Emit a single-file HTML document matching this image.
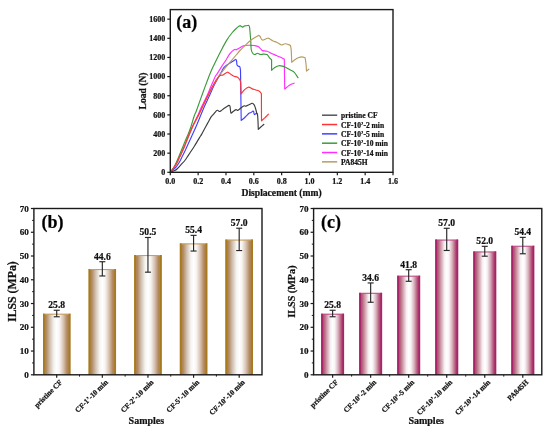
<!DOCTYPE html>
<html><head><meta charset="utf-8"><style>
html,body{margin:0;padding:0;background:#fff;width:550px;height:433px;overflow:hidden}
svg{display:block;will-change:transform}
text{stroke:#111;stroke-width:0.22px}
</style></head><body>
<svg width="550" height="433" viewBox="0 0 550 433">
<defs>
<linearGradient id="gb" x1="0" x2="1" y1="0" y2="0">
<stop offset="0" stop-color="#a87830"/><stop offset="0.12" stop-color="#b28a62"/><stop offset="0.26" stop-color="#d2c4b6"/><stop offset="0.4" stop-color="#f6f4f0"/><stop offset="0.5" stop-color="#ffffff"/><stop offset="0.6" stop-color="#f8f4f2"/><stop offset="0.74" stop-color="#d8c4b4"/><stop offset="0.88" stop-color="#b2885e"/><stop offset="1" stop-color="#a87a38"/>
</linearGradient>
<linearGradient id="gc" x1="0" x2="1" y1="0" y2="0">
<stop offset="0" stop-color="#a83068"/><stop offset="0.12" stop-color="#b25c76"/><stop offset="0.26" stop-color="#d4a4b2"/><stop offset="0.4" stop-color="#f6eef0"/><stop offset="0.5" stop-color="#ffffff"/><stop offset="0.6" stop-color="#f8f2f4"/><stop offset="0.74" stop-color="#d8b0bc"/><stop offset="0.88" stop-color="#b25476"/><stop offset="1" stop-color="#a8306a"/>
</linearGradient>
</defs>
<rect width="550" height="433" fill="#fff"/>
<path d="M170.50,172.00 C171.18,171.08 173.47,168.17 174.60,166.50 C175.73,164.83 176.48,163.58 177.30,162.00 C178.12,160.42 178.73,158.67 179.50,157.00 C180.27,155.33 181.10,153.75 181.90,152.00 C182.70,150.25 183.20,149.17 184.30,146.50 C185.40,143.83 187.05,139.50 188.50,136.00 C189.95,132.50 191.50,128.83 193.00,125.50 C194.50,122.17 196.17,118.92 197.50,116.00 C198.83,113.08 199.43,111.33 201.00,108.00 C202.57,104.67 205.23,99.62 206.90,96.00 C208.57,92.38 209.60,89.55 211.00,86.30 C212.40,83.05 214.33,78.48 215.30,76.50 C216.27,74.52 215.62,76.25 216.80,74.40 C217.98,72.55 220.83,67.85 222.40,65.40 C223.97,62.95 224.92,61.70 226.20,59.70 C227.48,57.70 228.72,55.12 230.10,53.40 C231.48,51.68 233.50,49.98 234.50,49.40 C235.50,48.82 235.83,49.82 236.10,49.90 C236.73,49.53 238.52,48.43 239.90,47.70 C241.28,46.97 242.57,45.90 244.40,45.50 C246.23,45.10 249.28,45.30 250.90,45.30 C252.52,45.30 252.88,45.30 254.10,45.50 C255.32,45.70 257.03,45.85 258.20,46.50 C259.37,47.15 260.38,48.72 261.10,49.40 C261.82,50.08 261.50,50.30 262.50,50.60 C263.50,50.90 265.70,50.77 267.10,51.20 C268.50,51.63 269.40,52.50 270.90,53.20 C272.40,53.90 274.58,54.75 276.10,55.40 C277.62,56.05 278.63,56.48 280.00,57.10 C281.37,57.72 283.58,58.77 284.30,59.10 L284.70,89.00 C285.55,88.35 288.23,86.07 289.80,85.10 C291.37,84.13 293.38,83.52 294.10,83.20" fill="none" stroke="#ff30ff" stroke-width="1.15" stroke-linejoin="round" stroke-linecap="round"/>
<path d="M170.50,172.00 C171.12,171.15 173.02,168.98 174.20,166.90 C175.38,164.82 176.38,162.32 177.60,159.50 C178.82,156.68 180.23,153.08 181.50,150.00 C182.77,146.92 184.18,143.42 185.20,141.00 C186.22,138.58 186.72,137.67 187.60,135.50 C188.48,133.33 189.40,131.25 190.50,128.00 C191.60,124.75 193.20,118.92 194.20,116.00 C195.20,113.08 195.12,114.22 196.50,110.50 C197.88,106.78 200.40,99.45 202.50,93.70 C204.60,87.95 207.52,80.13 209.10,76.00 C210.68,71.87 210.77,71.62 212.00,68.90 C213.23,66.18 214.93,62.87 216.50,59.70 C218.07,56.53 219.68,53.17 221.40,49.90 C223.12,46.63 224.98,43.00 226.80,40.10 C228.62,37.20 230.67,34.50 232.30,32.50 C233.93,30.50 235.33,29.25 236.60,28.10 C237.87,26.95 239.35,26.02 239.90,25.60 L242.60,27.20 C242.97,26.98 243.80,26.20 244.80,25.90 C245.80,25.60 247.97,25.48 248.60,25.40 C248.77,25.75 249.25,25.00 249.60,27.50 C249.95,30.00 250.42,36.65 250.70,40.40 C250.98,44.15 250.87,47.73 251.30,50.00 C251.73,52.27 252.68,53.27 253.30,54.00 C253.92,54.73 254.30,54.52 255.00,54.40 C255.70,54.28 256.57,53.28 257.50,53.30 C258.43,53.32 259.65,54.37 260.60,54.50 C261.55,54.63 262.12,54.10 263.20,54.10 C264.28,54.10 266.13,54.00 267.10,54.50 C268.07,55.00 268.25,56.18 269.00,57.10 C269.75,58.02 271.17,59.52 271.60,60.00 L271.60,70.30 C272.13,69.82 273.62,68.15 274.80,67.40 C275.98,66.65 277.65,66.05 278.70,65.80 C279.75,65.55 280.03,65.68 281.10,65.90 C282.17,66.12 283.65,66.45 285.10,67.10 C286.55,67.75 288.30,68.95 289.80,69.80 C291.30,70.65 292.73,70.88 294.10,72.20 C295.47,73.52 297.35,76.78 298.00,77.70" fill="none" stroke="#3a9a3a" stroke-width="1.15" stroke-linejoin="round" stroke-linecap="round"/>
<path d="M170.50,172.00 C171.35,171.25 174.10,169.17 175.60,167.50 C177.10,165.83 178.48,163.67 179.50,162.00 C180.52,160.33 180.87,159.17 181.70,157.50 C182.53,155.83 183.62,153.83 184.50,152.00 C185.38,150.17 185.78,149.17 187.00,146.50 C188.22,143.83 190.25,139.42 191.80,136.00 C193.35,132.58 194.87,129.33 196.30,126.00 C197.73,122.67 199.02,119.33 200.40,116.00 C201.78,112.67 203.12,109.33 204.60,106.00 C206.08,102.67 207.73,99.42 209.30,96.00 C210.87,92.58 212.37,88.83 214.00,85.50 C215.63,82.17 217.85,78.28 219.10,76.00 C220.35,73.72 220.82,73.05 221.50,71.80 C222.18,70.55 222.72,69.28 223.20,68.50 C223.68,67.72 223.93,67.58 224.40,67.10 C224.87,66.62 225.32,66.13 226.00,65.60 C226.68,65.07 227.67,64.43 228.50,63.90 C229.33,63.37 230.27,62.85 231.00,62.40 C231.73,61.95 232.13,61.70 232.90,61.20 C233.67,60.70 235.15,59.70 235.60,59.40 C235.75,59.55 236.27,59.38 236.50,60.30 C236.73,61.22 236.68,63.90 237.00,64.90 C237.32,65.90 237.93,65.98 238.40,66.30 C238.87,66.62 239.45,66.10 239.80,66.80 C240.15,67.50 240.38,69.88 240.50,70.50 L241.20,120.40 C241.72,120.00 243.40,118.78 244.30,118.00 C245.20,117.22 245.82,116.48 246.60,115.70 C247.38,114.92 248.27,113.83 249.00,113.30 C249.73,112.77 250.35,112.88 251.00,112.50 C251.65,112.12 252.58,111.25 252.90,111.00 C253.03,111.12 253.50,111.18 253.70,111.70 C253.90,112.22 253.90,113.63 254.10,114.10 C254.30,114.57 254.52,114.63 254.90,114.50 C255.28,114.37 255.95,113.37 256.40,113.30 C256.85,113.23 257.40,113.97 257.60,114.10" fill="none" stroke="#4040ff" stroke-width="1.15" stroke-linejoin="round" stroke-linecap="round"/>
<path d="M170.50,172.00 C171.23,171.08 173.72,168.17 174.90,166.50 C176.08,164.83 176.78,163.58 177.60,162.00 C178.42,160.42 179.03,158.67 179.80,157.00 C180.57,155.33 181.40,153.75 182.20,152.00 C183.00,150.25 183.50,149.17 184.60,146.50 C185.70,143.83 187.35,139.50 188.80,136.00 C190.25,132.50 191.72,128.83 193.30,125.50 C194.88,122.17 196.63,119.33 198.30,116.00 C199.97,112.67 201.68,108.83 203.30,105.50 C204.92,102.17 206.38,99.25 208.00,96.00 C209.62,92.75 211.53,88.73 213.00,86.00 C214.47,83.27 215.63,81.52 216.80,79.60 C217.97,77.68 218.63,76.40 220.00,74.50 C221.37,72.60 223.17,70.42 225.00,68.20 C226.83,65.98 229.13,63.40 231.00,61.20 C232.87,59.00 234.70,56.78 236.20,55.00 C237.70,53.22 238.52,52.08 240.00,50.50 C241.48,48.92 243.40,47.13 245.10,45.50 C246.80,43.87 248.63,41.98 250.20,40.70 C251.77,39.42 253.05,38.70 254.50,37.80 C255.95,36.90 258.17,35.72 258.90,35.30 C259.08,35.48 259.52,35.68 260.00,36.40 C260.48,37.12 261.25,39.00 261.80,39.60 C262.35,40.20 262.33,40.23 263.30,40.00 C264.27,39.77 266.52,38.38 267.60,38.20 C268.68,38.02 268.95,38.48 269.80,38.90 C270.65,39.32 271.60,40.15 272.70,40.70 C273.80,41.25 275.38,41.75 276.40,42.20 C277.42,42.65 277.95,42.93 278.80,43.40 C279.65,43.87 280.43,44.93 281.50,45.00 C282.57,45.07 283.73,43.77 285.20,43.80 C286.67,43.83 289.45,44.97 290.30,45.20 C290.45,45.98 290.97,47.05 291.20,49.90 C291.43,52.75 291.62,60.23 291.70,62.30 C292.17,61.92 293.42,60.77 294.50,60.00 C295.58,59.23 296.97,58.23 298.20,57.70 C299.43,57.17 300.75,56.80 301.90,56.80 C303.05,56.80 304.57,57.55 305.10,57.70 C305.25,58.70 305.77,61.47 306.00,63.70 C306.23,65.93 306.42,69.87 306.50,71.10 L308.80,69.20" fill="none" stroke="#b89c62" stroke-width="1.15" stroke-linejoin="round" stroke-linecap="round"/>
<path d="M170.50,172.00 C171.18,171.77 173.52,171.10 174.60,170.60 C175.68,170.10 175.85,170.07 177.00,169.00 C178.15,167.93 180.13,165.70 181.50,164.20 C182.87,162.70 183.98,161.60 185.20,160.00 C186.42,158.40 187.30,156.85 188.80,154.60 C190.30,152.35 192.42,149.33 194.20,146.50 C195.98,143.67 198.27,139.62 199.50,137.60 C200.73,135.58 200.52,136.30 201.60,134.40 C202.68,132.50 204.88,128.27 206.00,126.20 C207.12,124.13 207.50,123.47 208.30,122.00 C209.10,120.53 209.98,118.63 210.80,117.40 C211.62,116.17 212.50,115.43 213.20,114.60 C213.90,113.77 214.38,113.10 215.00,112.40 C215.62,111.70 216.43,110.73 216.90,110.40 C217.37,110.07 217.65,110.40 217.80,110.40 C218.07,110.58 218.85,111.45 219.40,111.50 C219.95,111.55 220.35,111.20 221.10,110.70 C221.85,110.20 222.98,109.15 223.90,108.50 C224.82,107.85 225.77,107.32 226.60,106.80 C227.43,106.28 228.33,105.53 228.90,105.40 C229.47,105.27 229.82,105.90 230.00,106.00 C230.13,107.10 230.53,111.45 230.80,112.60 C231.07,113.75 231.47,112.85 231.60,112.90 C231.97,112.58 233.05,111.55 233.80,111.00 C234.55,110.45 235.45,109.70 236.10,109.60 C236.75,109.50 236.87,110.70 237.70,110.40 C238.53,110.10 240.00,108.57 241.10,107.80 C242.20,107.03 243.52,106.07 244.30,105.80 C245.08,105.53 245.02,106.38 245.80,106.20 C246.58,106.02 247.95,105.18 249.00,104.70 C250.05,104.22 251.38,103.43 252.10,103.30 C252.82,103.17 252.90,103.53 253.30,103.90 C253.70,104.27 254.10,104.65 254.50,105.50 C254.90,106.35 255.32,107.70 255.70,109.00 C256.08,110.30 256.48,112.25 256.80,113.30 C257.12,114.35 257.40,113.93 257.60,115.30 C257.80,116.67 257.88,119.15 258.00,121.50 C258.12,123.85 258.25,128.08 258.30,129.40 C258.72,129.00 259.87,127.85 260.80,127.00 C261.73,126.15 263.38,124.75 263.90,124.30" fill="none" stroke="#3c3c3c" stroke-width="1.15" stroke-linejoin="round" stroke-linecap="round"/>
<path d="M170.50,172.00 C171.18,171.08 173.47,168.17 174.60,166.50 C175.73,164.83 176.48,163.58 177.30,162.00 C178.12,160.42 178.73,158.67 179.50,157.00 C180.27,155.33 181.10,153.75 181.90,152.00 C182.70,150.25 183.20,149.17 184.30,146.50 C185.40,143.83 187.05,139.50 188.50,136.00 C189.95,132.50 191.42,128.83 193.00,125.50 C194.58,122.17 196.33,119.33 198.00,116.00 C199.67,112.67 201.40,108.83 203.00,105.50 C204.60,102.17 205.98,99.25 207.60,96.00 C209.22,92.75 211.22,88.73 212.70,86.00 C214.18,83.27 215.28,81.33 216.50,79.60 C217.72,77.87 218.97,76.33 220.00,75.60 C221.03,74.87 222.25,75.27 222.70,75.20 C223.17,74.87 224.72,73.70 225.50,73.20 C226.28,72.70 226.82,72.25 227.40,72.20 C227.98,72.15 228.38,72.52 229.00,72.90 C229.62,73.28 230.27,73.93 231.10,74.50 C231.93,75.07 232.98,75.87 234.00,76.30 C235.02,76.73 236.23,76.53 237.20,77.10 C238.17,77.67 239.22,78.73 239.80,79.70 C240.38,80.67 240.55,82.37 240.70,82.90 L241.10,93.90 C241.73,93.15 243.62,90.53 244.90,89.40 C246.18,88.27 247.58,87.18 248.80,87.10 C250.02,87.02 251.02,88.42 252.20,88.90 C253.38,89.38 254.67,89.58 255.90,90.00 C257.13,90.42 258.68,90.78 259.60,91.40 C260.52,92.02 261.10,93.32 261.40,93.70 L261.50,120.80 C262.10,120.27 263.93,118.72 265.10,117.60 C266.27,116.48 267.93,114.68 268.50,114.10" fill="none" stroke="#ff3434" stroke-width="1.15" stroke-linejoin="round" stroke-linecap="round"/>
<rect x="170.3" y="9.6" width="222.7" height="162.70000000000002" fill="none" stroke="#1a1a1a" stroke-width="1.4"/>
<line x1="170.30" y1="172.3" x2="170.30" y2="175.3" stroke="#1a1a1a" stroke-width="1.2"/>
<text x="170.30" y="184.3" font-family="Liberation Serif" font-weight="bold" font-size="8" text-anchor="middle" fill="#111">0.0</text>
<line x1="198.14" y1="172.3" x2="198.14" y2="175.3" stroke="#1a1a1a" stroke-width="1.2"/>
<text x="198.14" y="184.3" font-family="Liberation Serif" font-weight="bold" font-size="8" text-anchor="middle" fill="#111">0.2</text>
<line x1="225.98" y1="172.3" x2="225.98" y2="175.3" stroke="#1a1a1a" stroke-width="1.2"/>
<text x="225.98" y="184.3" font-family="Liberation Serif" font-weight="bold" font-size="8" text-anchor="middle" fill="#111">0.4</text>
<line x1="253.81" y1="172.3" x2="253.81" y2="175.3" stroke="#1a1a1a" stroke-width="1.2"/>
<text x="253.81" y="184.3" font-family="Liberation Serif" font-weight="bold" font-size="8" text-anchor="middle" fill="#111">0.6</text>
<line x1="281.65" y1="172.3" x2="281.65" y2="175.3" stroke="#1a1a1a" stroke-width="1.2"/>
<text x="281.65" y="184.3" font-family="Liberation Serif" font-weight="bold" font-size="8" text-anchor="middle" fill="#111">0.8</text>
<line x1="309.49" y1="172.3" x2="309.49" y2="175.3" stroke="#1a1a1a" stroke-width="1.2"/>
<text x="309.49" y="184.3" font-family="Liberation Serif" font-weight="bold" font-size="8" text-anchor="middle" fill="#111">1.0</text>
<line x1="337.33" y1="172.3" x2="337.33" y2="175.3" stroke="#1a1a1a" stroke-width="1.2"/>
<text x="337.33" y="184.3" font-family="Liberation Serif" font-weight="bold" font-size="8" text-anchor="middle" fill="#111">1.2</text>
<line x1="365.16" y1="172.3" x2="365.16" y2="175.3" stroke="#1a1a1a" stroke-width="1.2"/>
<text x="365.16" y="184.3" font-family="Liberation Serif" font-weight="bold" font-size="8" text-anchor="middle" fill="#111">1.4</text>
<line x1="393.00" y1="172.3" x2="393.00" y2="175.3" stroke="#1a1a1a" stroke-width="1.2"/>
<text x="393.00" y="184.3" font-family="Liberation Serif" font-weight="bold" font-size="8" text-anchor="middle" fill="#111">1.6</text>
<line x1="167.3" y1="172.30" x2="170.3" y2="172.30" stroke="#1a1a1a" stroke-width="1.2"/>
<text x="165.3" y="175.20" font-family="Liberation Serif" font-weight="bold" font-size="8" text-anchor="end" fill="#111">0</text>
<line x1="167.3" y1="153.16" x2="170.3" y2="153.16" stroke="#1a1a1a" stroke-width="1.2"/>
<text x="165.3" y="156.06" font-family="Liberation Serif" font-weight="bold" font-size="8" text-anchor="end" fill="#111">200</text>
<line x1="167.3" y1="134.02" x2="170.3" y2="134.02" stroke="#1a1a1a" stroke-width="1.2"/>
<text x="165.3" y="136.92" font-family="Liberation Serif" font-weight="bold" font-size="8" text-anchor="end" fill="#111">400</text>
<line x1="167.3" y1="114.88" x2="170.3" y2="114.88" stroke="#1a1a1a" stroke-width="1.2"/>
<text x="165.3" y="117.78" font-family="Liberation Serif" font-weight="bold" font-size="8" text-anchor="end" fill="#111">600</text>
<line x1="167.3" y1="95.74" x2="170.3" y2="95.74" stroke="#1a1a1a" stroke-width="1.2"/>
<text x="165.3" y="98.64" font-family="Liberation Serif" font-weight="bold" font-size="8" text-anchor="end" fill="#111">800</text>
<line x1="167.3" y1="76.59" x2="170.3" y2="76.59" stroke="#1a1a1a" stroke-width="1.2"/>
<text x="165.3" y="79.49" font-family="Liberation Serif" font-weight="bold" font-size="8" text-anchor="end" fill="#111">1000</text>
<line x1="167.3" y1="57.45" x2="170.3" y2="57.45" stroke="#1a1a1a" stroke-width="1.2"/>
<text x="165.3" y="60.35" font-family="Liberation Serif" font-weight="bold" font-size="8" text-anchor="end" fill="#111">1200</text>
<line x1="167.3" y1="38.31" x2="170.3" y2="38.31" stroke="#1a1a1a" stroke-width="1.2"/>
<text x="165.3" y="41.21" font-family="Liberation Serif" font-weight="bold" font-size="8" text-anchor="end" fill="#111">1400</text>
<line x1="167.3" y1="19.17" x2="170.3" y2="19.17" stroke="#1a1a1a" stroke-width="1.2"/>
<text x="165.3" y="22.07" font-family="Liberation Serif" font-weight="bold" font-size="8" text-anchor="end" fill="#111">1600</text>
<text x="281.6" y="195.5" font-family="Liberation Serif" font-weight="bold" font-size="9.6" text-anchor="middle" fill="#111">Displacement (mm)</text>
<text transform="translate(146.3,91.0) rotate(-90)" font-family="Liberation Serif" font-weight="bold" font-size="9.6" text-anchor="middle" fill="#111">Load (N)</text>
<text x="176.3" y="27.8" font-family="Liberation Serif" font-weight="bold" font-size="18" fill="#000">(a)</text>
<line x1="322" y1="115.20" x2="337.2" y2="115.20" stroke="#555555" stroke-width="1.5"/>
<text x="341" y="118.20" font-family="Liberation Serif" font-weight="bold" font-size="7.5" fill="#111">pristine CF</text>
<line x1="322" y1="124.53" x2="337.2" y2="124.53" stroke="#ff3434" stroke-width="1.5"/>
<text x="341" y="127.53" font-family="Liberation Serif" font-weight="bold" font-size="7.5" fill="#111">CF-10&#8217;-2 min</text>
<line x1="322" y1="133.86" x2="337.2" y2="133.86" stroke="#4040ff" stroke-width="1.5"/>
<text x="341" y="136.86" font-family="Liberation Serif" font-weight="bold" font-size="7.5" fill="#111">CF-10&#8217;-5 min</text>
<line x1="322" y1="143.19" x2="337.2" y2="143.19" stroke="#3a9a3a" stroke-width="1.5"/>
<text x="341" y="146.19" font-family="Liberation Serif" font-weight="bold" font-size="7.5" fill="#111">CF-10&#8217;-10 min</text>
<line x1="322" y1="152.52" x2="337.2" y2="152.52" stroke="#ff30ff" stroke-width="1.5"/>
<text x="341" y="155.52" font-family="Liberation Serif" font-weight="bold" font-size="7.5" fill="#111">CF-10&#8217;-14 min</text>
<line x1="322" y1="161.85" x2="337.2" y2="161.85" stroke="#b89c62" stroke-width="1.5"/>
<text x="341" y="164.85" font-family="Liberation Serif" font-weight="bold" font-size="7.5" fill="#111">PA845H</text>
<rect x="43.02" y="313.91" width="27.37" height="60.89" fill="url(#gb)"/>
<line x1="43.02" y1="314.21" x2="70.40" y2="314.21" stroke="#c8a060" stroke-width="1.1"/>
<line x1="43.82" y1="313.71" x2="43.82" y2="374.80" stroke="#a87a1e" stroke-width="1.7"/>
<line x1="69.60" y1="313.71" x2="69.60" y2="374.80" stroke="#a87a1e" stroke-width="1.7"/>
<line x1="56.71" y1="310.25" x2="56.71" y2="316.76" stroke="#262626" stroke-width="1.15"/>
<line x1="53.71" y1="310.25" x2="59.71" y2="310.25" stroke="#262626" stroke-width="1.15"/>
<line x1="53.71" y1="316.76" x2="59.71" y2="316.76" stroke="#262626" stroke-width="1.15"/>
<text x="56.71" y="308.25" font-family="Liberation Serif" font-weight="bold" font-size="9.6" text-anchor="middle" fill="#111">25.8</text>
<line x1="56.71" y1="374.8" x2="56.71" y2="377.8" stroke="#1a1a1a" stroke-width="1.2"/>
<text transform="translate(62.71,382.70) rotate(-45)" font-family="Liberation Serif" font-weight="bold" font-size="7.45" text-anchor="end" fill="#111">pristine CF</text>
<rect x="88.64" y="269.24" width="27.37" height="105.56" fill="url(#gb)"/>
<line x1="88.64" y1="269.54" x2="116.02" y2="269.54" stroke="#c8a060" stroke-width="1.1"/>
<line x1="89.44" y1="269.04" x2="89.44" y2="374.80" stroke="#a87a1e" stroke-width="1.7"/>
<line x1="115.22" y1="269.04" x2="115.22" y2="374.80" stroke="#a87a1e" stroke-width="1.7"/>
<line x1="102.33" y1="261.72" x2="102.33" y2="275.97" stroke="#262626" stroke-width="1.15"/>
<line x1="99.33" y1="261.72" x2="105.33" y2="261.72" stroke="#262626" stroke-width="1.15"/>
<line x1="99.33" y1="275.97" x2="105.33" y2="275.97" stroke="#262626" stroke-width="1.15"/>
<text x="102.33" y="259.72" font-family="Liberation Serif" font-weight="bold" font-size="9.6" text-anchor="middle" fill="#111">44.6</text>
<line x1="102.33" y1="374.8" x2="102.33" y2="377.8" stroke="#1a1a1a" stroke-width="1.2"/>
<line x1="79.52" y1="374.8" x2="79.52" y2="376.6" stroke="#1a1a1a" stroke-width="1"/>
<text transform="translate(108.33,382.70) rotate(-45)" font-family="Liberation Serif" font-weight="bold" font-size="7.45" text-anchor="end" fill="#111">CF-1&#8217;-10 min</text>
<rect x="134.26" y="255.23" width="27.37" height="119.57" fill="url(#gb)"/>
<line x1="134.26" y1="255.53" x2="161.64" y2="255.53" stroke="#c8a060" stroke-width="1.1"/>
<line x1="135.06" y1="255.03" x2="135.06" y2="374.80" stroke="#a87a1e" stroke-width="1.7"/>
<line x1="160.84" y1="255.03" x2="160.84" y2="374.80" stroke="#a87a1e" stroke-width="1.7"/>
<line x1="147.95" y1="237.48" x2="147.95" y2="272.17" stroke="#262626" stroke-width="1.15"/>
<line x1="144.95" y1="237.48" x2="150.95" y2="237.48" stroke="#262626" stroke-width="1.15"/>
<line x1="144.95" y1="272.17" x2="150.95" y2="272.17" stroke="#262626" stroke-width="1.15"/>
<text x="147.95" y="235.48" font-family="Liberation Serif" font-weight="bold" font-size="9.6" text-anchor="middle" fill="#111">50.5</text>
<line x1="147.95" y1="374.8" x2="147.95" y2="377.8" stroke="#1a1a1a" stroke-width="1.2"/>
<line x1="125.14" y1="374.8" x2="125.14" y2="376.6" stroke="#1a1a1a" stroke-width="1"/>
<text transform="translate(153.95,382.70) rotate(-45)" font-family="Liberation Serif" font-weight="bold" font-size="7.45" text-anchor="end" fill="#111">CF-2&#8217;-10 min</text>
<rect x="179.88" y="243.59" width="27.37" height="131.21" fill="url(#gb)"/>
<line x1="179.88" y1="243.89" x2="207.26" y2="243.89" stroke="#c8a060" stroke-width="1.1"/>
<line x1="180.68" y1="243.39" x2="180.68" y2="374.80" stroke="#a87a1e" stroke-width="1.7"/>
<line x1="206.46" y1="243.39" x2="206.46" y2="374.80" stroke="#a87a1e" stroke-width="1.7"/>
<line x1="193.57" y1="235.35" x2="193.57" y2="251.03" stroke="#262626" stroke-width="1.15"/>
<line x1="190.57" y1="235.35" x2="196.57" y2="235.35" stroke="#262626" stroke-width="1.15"/>
<line x1="190.57" y1="251.03" x2="196.57" y2="251.03" stroke="#262626" stroke-width="1.15"/>
<text x="193.57" y="233.35" font-family="Liberation Serif" font-weight="bold" font-size="9.6" text-anchor="middle" fill="#111">55.4</text>
<line x1="193.57" y1="374.8" x2="193.57" y2="377.8" stroke="#1a1a1a" stroke-width="1.2"/>
<line x1="170.76" y1="374.8" x2="170.76" y2="376.6" stroke="#1a1a1a" stroke-width="1"/>
<text transform="translate(199.57,382.70) rotate(-45)" font-family="Liberation Serif" font-weight="bold" font-size="7.45" text-anchor="end" fill="#111">CF-5&#8217;-10 min</text>
<rect x="225.50" y="239.78" width="27.37" height="135.02" fill="url(#gb)"/>
<line x1="225.50" y1="240.08" x2="252.88" y2="240.08" stroke="#c8a060" stroke-width="1.1"/>
<line x1="226.30" y1="239.58" x2="226.30" y2="374.80" stroke="#a87a1e" stroke-width="1.7"/>
<line x1="252.08" y1="239.58" x2="252.08" y2="374.80" stroke="#a87a1e" stroke-width="1.7"/>
<line x1="239.19" y1="228.22" x2="239.19" y2="250.55" stroke="#262626" stroke-width="1.15"/>
<line x1="236.19" y1="228.22" x2="242.19" y2="228.22" stroke="#262626" stroke-width="1.15"/>
<line x1="236.19" y1="250.55" x2="242.19" y2="250.55" stroke="#262626" stroke-width="1.15"/>
<text x="239.19" y="226.22" font-family="Liberation Serif" font-weight="bold" font-size="9.6" text-anchor="middle" fill="#111">57.0</text>
<line x1="239.19" y1="374.8" x2="239.19" y2="377.8" stroke="#1a1a1a" stroke-width="1.2"/>
<line x1="216.38" y1="374.8" x2="216.38" y2="376.6" stroke="#1a1a1a" stroke-width="1"/>
<text transform="translate(245.19,382.70) rotate(-45)" font-family="Liberation Serif" font-weight="bold" font-size="7.45" text-anchor="end" fill="#111">CF-10&#8217;-10 min</text>
<rect x="33.9" y="208.5" width="228.1" height="166.3" fill="none" stroke="#1a1a1a" stroke-width="1.4"/>
<line x1="30.9" y1="374.80" x2="33.9" y2="374.80" stroke="#1a1a1a" stroke-width="1.2"/>
<text x="28.799999999999997" y="378.00" font-family="Liberation Serif" font-weight="bold" font-size="9.1" text-anchor="end" fill="#111">0</text>
<line x1="32.1" y1="362.92" x2="33.9" y2="362.92" stroke="#1a1a1a" stroke-width="1"/>
<line x1="30.9" y1="351.04" x2="33.9" y2="351.04" stroke="#1a1a1a" stroke-width="1.2"/>
<text x="28.799999999999997" y="354.24" font-family="Liberation Serif" font-weight="bold" font-size="9.1" text-anchor="end" fill="#111">10</text>
<line x1="32.1" y1="339.16" x2="33.9" y2="339.16" stroke="#1a1a1a" stroke-width="1"/>
<line x1="30.9" y1="327.29" x2="33.9" y2="327.29" stroke="#1a1a1a" stroke-width="1.2"/>
<text x="28.799999999999997" y="330.49" font-family="Liberation Serif" font-weight="bold" font-size="9.1" text-anchor="end" fill="#111">20</text>
<line x1="32.1" y1="315.41" x2="33.9" y2="315.41" stroke="#1a1a1a" stroke-width="1"/>
<line x1="30.9" y1="303.53" x2="33.9" y2="303.53" stroke="#1a1a1a" stroke-width="1.2"/>
<text x="28.799999999999997" y="306.73" font-family="Liberation Serif" font-weight="bold" font-size="9.1" text-anchor="end" fill="#111">30</text>
<line x1="32.1" y1="291.65" x2="33.9" y2="291.65" stroke="#1a1a1a" stroke-width="1"/>
<line x1="30.9" y1="279.77" x2="33.9" y2="279.77" stroke="#1a1a1a" stroke-width="1.2"/>
<text x="28.799999999999997" y="282.97" font-family="Liberation Serif" font-weight="bold" font-size="9.1" text-anchor="end" fill="#111">40</text>
<line x1="32.1" y1="267.89" x2="33.9" y2="267.89" stroke="#1a1a1a" stroke-width="1"/>
<line x1="30.9" y1="256.01" x2="33.9" y2="256.01" stroke="#1a1a1a" stroke-width="1.2"/>
<text x="28.799999999999997" y="259.21" font-family="Liberation Serif" font-weight="bold" font-size="9.1" text-anchor="end" fill="#111">50</text>
<line x1="32.1" y1="244.14" x2="33.9" y2="244.14" stroke="#1a1a1a" stroke-width="1"/>
<line x1="30.9" y1="232.26" x2="33.9" y2="232.26" stroke="#1a1a1a" stroke-width="1.2"/>
<text x="28.799999999999997" y="235.46" font-family="Liberation Serif" font-weight="bold" font-size="9.1" text-anchor="end" fill="#111">60</text>
<line x1="32.1" y1="220.38" x2="33.9" y2="220.38" stroke="#1a1a1a" stroke-width="1"/>
<line x1="30.9" y1="208.50" x2="33.9" y2="208.50" stroke="#1a1a1a" stroke-width="1.2"/>
<text x="28.799999999999997" y="211.70" font-family="Liberation Serif" font-weight="bold" font-size="9.1" text-anchor="end" fill="#111">70</text>
<text x="146.4" y="424" font-family="Liberation Serif" font-weight="bold" font-size="10" text-anchor="middle" fill="#111">Samples</text>
<text transform="translate(15.7,291.6) rotate(-90)" font-family="Liberation Serif" font-weight="bold" font-size="11.8" text-anchor="middle" fill="#111">ILSS (MPa)</text>
<text x="41.4" y="227.6" font-family="Liberation Serif" font-weight="bold" font-size="18" fill="#000">(b)</text>
<rect x="321.21" y="313.91" width="22.82" height="60.89" fill="url(#gc)"/>
<line x1="321.21" y1="314.21" x2="344.03" y2="314.21" stroke="#c0508a" stroke-width="1.1"/>
<line x1="322.01" y1="313.71" x2="322.01" y2="374.80" stroke="#a8246a" stroke-width="1.7"/>
<line x1="343.23" y1="313.71" x2="343.23" y2="374.80" stroke="#a8246a" stroke-width="1.7"/>
<line x1="332.62" y1="310.25" x2="332.62" y2="316.76" stroke="#262626" stroke-width="1.15"/>
<line x1="329.62" y1="310.25" x2="335.62" y2="310.25" stroke="#262626" stroke-width="1.15"/>
<line x1="329.62" y1="316.76" x2="335.62" y2="316.76" stroke="#262626" stroke-width="1.15"/>
<text x="332.62" y="308.25" font-family="Liberation Serif" font-weight="bold" font-size="9.6" text-anchor="middle" fill="#111">25.8</text>
<line x1="332.62" y1="374.8" x2="332.62" y2="377.8" stroke="#1a1a1a" stroke-width="1.2"/>
<text transform="translate(338.62,382.70) rotate(-45)" font-family="Liberation Serif" font-weight="bold" font-size="7.45" text-anchor="end" fill="#111">pristine CF</text>
<rect x="359.24" y="293.00" width="22.82" height="81.80" fill="url(#gc)"/>
<line x1="359.24" y1="293.30" x2="382.06" y2="293.30" stroke="#c0508a" stroke-width="1.1"/>
<line x1="360.04" y1="292.80" x2="360.04" y2="374.80" stroke="#a8246a" stroke-width="1.7"/>
<line x1="381.26" y1="292.80" x2="381.26" y2="374.80" stroke="#a8246a" stroke-width="1.7"/>
<line x1="370.65" y1="282.95" x2="370.65" y2="302.25" stroke="#262626" stroke-width="1.15"/>
<line x1="367.65" y1="282.95" x2="373.65" y2="282.95" stroke="#262626" stroke-width="1.15"/>
<line x1="367.65" y1="302.25" x2="373.65" y2="302.25" stroke="#262626" stroke-width="1.15"/>
<text x="370.65" y="280.95" font-family="Liberation Serif" font-weight="bold" font-size="9.6" text-anchor="middle" fill="#111">34.6</text>
<line x1="370.65" y1="374.8" x2="370.65" y2="377.8" stroke="#1a1a1a" stroke-width="1.2"/>
<line x1="351.63" y1="374.8" x2="351.63" y2="376.6" stroke="#1a1a1a" stroke-width="1"/>
<text transform="translate(376.65,382.70) rotate(-45)" font-family="Liberation Serif" font-weight="bold" font-size="7.45" text-anchor="end" fill="#111">CF-10&#8217;-2 min</text>
<rect x="397.27" y="275.90" width="22.82" height="98.90" fill="url(#gc)"/>
<line x1="397.27" y1="276.20" x2="420.09" y2="276.20" stroke="#c0508a" stroke-width="1.1"/>
<line x1="398.07" y1="275.70" x2="398.07" y2="374.80" stroke="#a8246a" stroke-width="1.7"/>
<line x1="419.29" y1="275.70" x2="419.29" y2="374.80" stroke="#a8246a" stroke-width="1.7"/>
<line x1="408.68" y1="269.70" x2="408.68" y2="281.29" stroke="#262626" stroke-width="1.15"/>
<line x1="405.68" y1="269.70" x2="411.68" y2="269.70" stroke="#262626" stroke-width="1.15"/>
<line x1="405.68" y1="281.29" x2="411.68" y2="281.29" stroke="#262626" stroke-width="1.15"/>
<text x="408.68" y="267.70" font-family="Liberation Serif" font-weight="bold" font-size="9.6" text-anchor="middle" fill="#111">41.8</text>
<line x1="408.68" y1="374.8" x2="408.68" y2="377.8" stroke="#1a1a1a" stroke-width="1.2"/>
<line x1="389.67" y1="374.8" x2="389.67" y2="376.6" stroke="#1a1a1a" stroke-width="1"/>
<text transform="translate(414.68,382.70) rotate(-45)" font-family="Liberation Serif" font-weight="bold" font-size="7.45" text-anchor="end" fill="#111">CF-10&#8217;-5 min</text>
<rect x="435.31" y="239.78" width="22.82" height="135.02" fill="url(#gc)"/>
<line x1="435.31" y1="240.08" x2="458.13" y2="240.08" stroke="#c0508a" stroke-width="1.1"/>
<line x1="436.11" y1="239.58" x2="436.11" y2="374.80" stroke="#a8246a" stroke-width="1.7"/>
<line x1="457.33" y1="239.58" x2="457.33" y2="374.80" stroke="#a8246a" stroke-width="1.7"/>
<line x1="446.72" y1="228.29" x2="446.72" y2="250.48" stroke="#262626" stroke-width="1.15"/>
<line x1="443.72" y1="228.29" x2="449.72" y2="228.29" stroke="#262626" stroke-width="1.15"/>
<line x1="443.72" y1="250.48" x2="449.72" y2="250.48" stroke="#262626" stroke-width="1.15"/>
<text x="446.72" y="226.29" font-family="Liberation Serif" font-weight="bold" font-size="9.6" text-anchor="middle" fill="#111">57.0</text>
<line x1="446.72" y1="374.8" x2="446.72" y2="377.8" stroke="#1a1a1a" stroke-width="1.2"/>
<line x1="427.70" y1="374.8" x2="427.70" y2="376.6" stroke="#1a1a1a" stroke-width="1"/>
<text transform="translate(452.72,382.70) rotate(-45)" font-family="Liberation Serif" font-weight="bold" font-size="7.45" text-anchor="end" fill="#111">CF-10&#8217;-10 min</text>
<rect x="473.34" y="251.66" width="22.82" height="123.14" fill="url(#gc)"/>
<line x1="473.34" y1="251.96" x2="496.16" y2="251.96" stroke="#c0508a" stroke-width="1.1"/>
<line x1="474.14" y1="251.46" x2="474.14" y2="374.80" stroke="#a8246a" stroke-width="1.7"/>
<line x1="495.36" y1="251.46" x2="495.36" y2="374.80" stroke="#a8246a" stroke-width="1.7"/>
<line x1="484.75" y1="246.32" x2="484.75" y2="256.20" stroke="#262626" stroke-width="1.15"/>
<line x1="481.75" y1="246.32" x2="487.75" y2="246.32" stroke="#262626" stroke-width="1.15"/>
<line x1="481.75" y1="256.20" x2="487.75" y2="256.20" stroke="#262626" stroke-width="1.15"/>
<text x="484.75" y="244.32" font-family="Liberation Serif" font-weight="bold" font-size="9.6" text-anchor="middle" fill="#111">52.0</text>
<line x1="484.75" y1="374.8" x2="484.75" y2="377.8" stroke="#1a1a1a" stroke-width="1.2"/>
<line x1="465.73" y1="374.8" x2="465.73" y2="376.6" stroke="#1a1a1a" stroke-width="1"/>
<text transform="translate(490.75,382.70) rotate(-45)" font-family="Liberation Serif" font-weight="bold" font-size="7.45" text-anchor="end" fill="#111">CF-10&#8217;-14 min</text>
<rect x="511.37" y="245.96" width="22.82" height="128.84" fill="url(#gc)"/>
<line x1="511.37" y1="246.26" x2="534.19" y2="246.26" stroke="#c0508a" stroke-width="1.1"/>
<line x1="512.17" y1="245.76" x2="512.17" y2="374.80" stroke="#a8246a" stroke-width="1.7"/>
<line x1="533.39" y1="245.76" x2="533.39" y2="374.80" stroke="#a8246a" stroke-width="1.7"/>
<line x1="522.78" y1="237.36" x2="522.78" y2="253.76" stroke="#262626" stroke-width="1.15"/>
<line x1="519.78" y1="237.36" x2="525.78" y2="237.36" stroke="#262626" stroke-width="1.15"/>
<line x1="519.78" y1="253.76" x2="525.78" y2="253.76" stroke="#262626" stroke-width="1.15"/>
<text x="522.78" y="235.36" font-family="Liberation Serif" font-weight="bold" font-size="9.6" text-anchor="middle" fill="#111">54.4</text>
<line x1="522.78" y1="374.8" x2="522.78" y2="377.8" stroke="#1a1a1a" stroke-width="1.2"/>
<line x1="503.77" y1="374.8" x2="503.77" y2="376.6" stroke="#1a1a1a" stroke-width="1"/>
<text transform="translate(528.78,382.70) rotate(-45)" font-family="Liberation Serif" font-weight="bold" font-size="7.45" text-anchor="end" fill="#111">PA845H</text>
<rect x="313.6" y="208.5" width="228.19999999999993" height="166.3" fill="none" stroke="#1a1a1a" stroke-width="1.4"/>
<line x1="310.6" y1="374.80" x2="313.6" y2="374.80" stroke="#1a1a1a" stroke-width="1.2"/>
<text x="308.5" y="378.00" font-family="Liberation Serif" font-weight="bold" font-size="9.1" text-anchor="end" fill="#111">0</text>
<line x1="311.8" y1="362.92" x2="313.6" y2="362.92" stroke="#1a1a1a" stroke-width="1"/>
<line x1="310.6" y1="351.04" x2="313.6" y2="351.04" stroke="#1a1a1a" stroke-width="1.2"/>
<text x="308.5" y="354.24" font-family="Liberation Serif" font-weight="bold" font-size="9.1" text-anchor="end" fill="#111">10</text>
<line x1="311.8" y1="339.16" x2="313.6" y2="339.16" stroke="#1a1a1a" stroke-width="1"/>
<line x1="310.6" y1="327.29" x2="313.6" y2="327.29" stroke="#1a1a1a" stroke-width="1.2"/>
<text x="308.5" y="330.49" font-family="Liberation Serif" font-weight="bold" font-size="9.1" text-anchor="end" fill="#111">20</text>
<line x1="311.8" y1="315.41" x2="313.6" y2="315.41" stroke="#1a1a1a" stroke-width="1"/>
<line x1="310.6" y1="303.53" x2="313.6" y2="303.53" stroke="#1a1a1a" stroke-width="1.2"/>
<text x="308.5" y="306.73" font-family="Liberation Serif" font-weight="bold" font-size="9.1" text-anchor="end" fill="#111">30</text>
<line x1="311.8" y1="291.65" x2="313.6" y2="291.65" stroke="#1a1a1a" stroke-width="1"/>
<line x1="310.6" y1="279.77" x2="313.6" y2="279.77" stroke="#1a1a1a" stroke-width="1.2"/>
<text x="308.5" y="282.97" font-family="Liberation Serif" font-weight="bold" font-size="9.1" text-anchor="end" fill="#111">40</text>
<line x1="311.8" y1="267.89" x2="313.6" y2="267.89" stroke="#1a1a1a" stroke-width="1"/>
<line x1="310.6" y1="256.01" x2="313.6" y2="256.01" stroke="#1a1a1a" stroke-width="1.2"/>
<text x="308.5" y="259.21" font-family="Liberation Serif" font-weight="bold" font-size="9.1" text-anchor="end" fill="#111">50</text>
<line x1="311.8" y1="244.14" x2="313.6" y2="244.14" stroke="#1a1a1a" stroke-width="1"/>
<line x1="310.6" y1="232.26" x2="313.6" y2="232.26" stroke="#1a1a1a" stroke-width="1.2"/>
<text x="308.5" y="235.46" font-family="Liberation Serif" font-weight="bold" font-size="9.1" text-anchor="end" fill="#111">60</text>
<line x1="311.8" y1="220.38" x2="313.6" y2="220.38" stroke="#1a1a1a" stroke-width="1"/>
<line x1="310.6" y1="208.50" x2="313.6" y2="208.50" stroke="#1a1a1a" stroke-width="1.2"/>
<text x="308.5" y="211.70" font-family="Liberation Serif" font-weight="bold" font-size="9.1" text-anchor="end" fill="#111">70</text>
<text x="426.2" y="424" font-family="Liberation Serif" font-weight="bold" font-size="10" text-anchor="middle" fill="#111">Samples</text>
<text transform="translate(294.70000000000005,291.6) rotate(-90)" font-family="Liberation Serif" font-weight="bold" font-size="10.2" text-anchor="middle" fill="#111">ILSS (MPa)</text>
<text x="321.1" y="227.6" font-family="Liberation Serif" font-weight="bold" font-size="18" fill="#000">(c)</text>
</svg>
</body></html>
